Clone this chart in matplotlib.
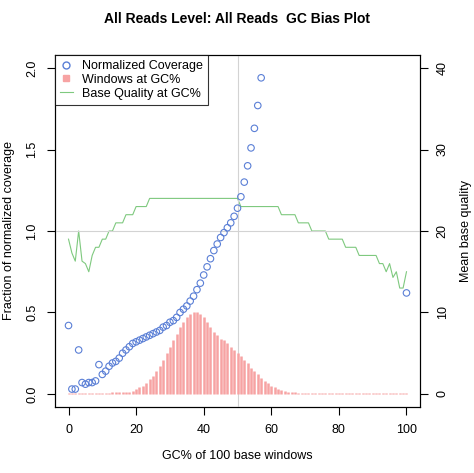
import matplotlib
matplotlib.use("Agg")
import matplotlib.pyplot as plt
from matplotlib.lines import Line2D

plt.rcParams['font.family'] = ['Liberation Sans', 'DejaVu Sans']

cov_gc = list(range(0, 58)) + [100]
cov_val = [0.42, 0.03, 0.03, 0.27, 0.07, 0.06, 0.07, 0.07, 0.08, 0.18,
           0.12, 0.14, 0.17, 0.19, 0.20, 0.22, 0.25, 0.27, 0.29, 0.31,
           0.32, 0.33, 0.34, 0.35, 0.36, 0.37, 0.38, 0.39, 0.41, 0.42,
           0.44, 0.45, 0.47, 0.50, 0.52, 0.54, 0.57, 0.60, 0.64, 0.68,
           0.73, 0.78, 0.83, 0.88, 0.92, 0.96, 0.99, 1.02, 1.05, 1.09,
           1.14, 1.21, 1.30, 1.40, 1.51, 1.63, 1.77, 1.94,
           0.62]

win_gc = list(range(0, 101))
win_val = ([0.005]*10 +
           [0.006, 0.007, 0.008, 0.009, 0.010, 0.011, 0.012, 0.013, 0.015, 0.02,
            0.03, 0.04, 0.05, 0.07, 0.09, 0.11, 0.14, 0.17, 0.21, 0.25,
            0.29, 0.33, 0.37, 0.41, 0.44, 0.47, 0.49, 0.50, 0.50, 0.49,
            0.47, 0.44, 0.41, 0.38, 0.36, 0.34, 0.33, 0.31, 0.29, 0.27,
            0.25, 0.23, 0.21, 0.19, 0.16, 0.14, 0.12, 0.10, 0.08, 0.065,
            0.05, 0.04, 0.03, 0.025, 0.02, 0.015, 0.012, 0.01, 0.008, 0.007] +
           [0.006]*31)

qual_gc = list(range(0, 101))
qual_val = ([19, 17.3, 16.3, 20, 16.3, 16, 15, 17, 18, 18,
             19, 19, 20, 20, 21, 21, 21, 22, 22, 22,
             23, 23, 23, 23] + [24]*27 +
            [23]*12 + [22]*5 + [21]*4 + [20]*5 + [19]*5 + [18]*4 + [17]*6 +
            [16, 16, 15, 16, 14.3, 15, 13, 13, 15])

fig = plt.figure(figsize=(4.74, 4.73), dpi=100)
ax = fig.add_axes([55/474, 1-407/473, 365/474, 352/473])
ax2 = ax.twinx()
ax.set_zorder(ax2.get_zorder()+1); ax.patch.set_visible(False)

ax.axvline(50, color='#d3d3d3', lw=0.8, zorder=0)
ax.axhline(1.0, color='#d3d3d3', lw=0.8, zorder=0)
ax.vlines(win_gc, 0, win_val, color='#f7a3a3', lw=1.8, zorder=1)
ax2.plot(qual_gc, qual_val, color='#7fc97f', lw=0.8)
ax.scatter(cov_gc, cov_val, s=22, facecolors='none', edgecolors='#5a7fd6', lw=0.8, zorder=3)

ax.set_xlim(-4, 104)
ax.set_ylim(-0.08, 2.08)
ax2.set_ylim(-1.6, 41.6)
ax.set_xticks([0, 20, 40, 60, 80, 100])
ax.set_yticks([0, 0.5, 1.0, 1.5, 2.0])
ax.set_yticklabels(['0.0', '0.5', '1.0', '1.5', '2.0'], rotation=90, va='center')
ax2.set_yticks([0, 10, 20, 30, 40])
ax2.set_yticklabels(['0', '10', '20', '30', '40'], rotation=90, va='center')
for a in (ax, ax2):
    a.tick_params(labelsize=9, length=6, pad=6)
ax.set_xlabel('GC% of 100 base windows', fontsize=9, labelpad=10)
ax.set_ylabel('Fraction of normalized coverage', fontsize=9, labelpad=8)
ax2.set_ylabel('Mean base quality', fontsize=9, labelpad=8)
fig.suptitle('All Reads Level: All Reads  GC Bias Plot', fontsize=10, fontweight='bold', y=0.975)

h = [Line2D([], [], marker='o', ls='', mfc='none', mec='#5a7fd6', ms=5),
     Line2D([], [], marker='s', ls='', color='#f7a3a3', ms=5),
     Line2D([], [], color='#7fc97f', lw=0.8)]
leg = ax.legend(h, ['Normalized Coverage', 'Windows at GC%', 'Base Quality at GC%'],
                loc='upper left', fontsize=9, frameon=True, fancybox=False,
                edgecolor='black', borderaxespad=0, handlelength=1, labelspacing=0.15)
leg.get_frame().set_linewidth(0.8)
fig.savefig('out.png', dpi=100)
